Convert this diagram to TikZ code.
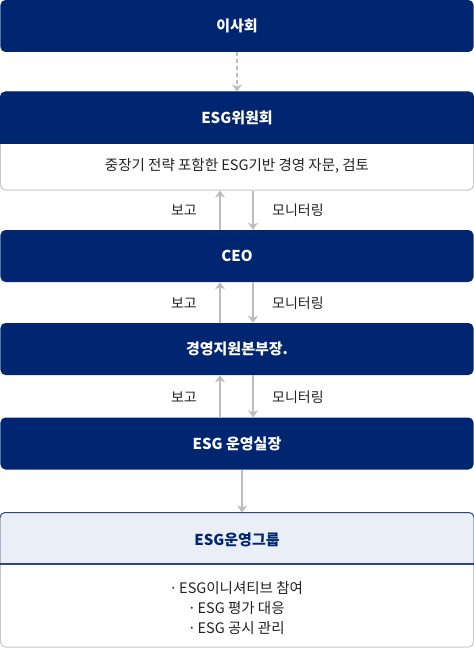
\documentclass[tikz,border=0pt]{standalone}
\usepackage{fontspec}
\setmainfont{Noto Sans CJK KR}
\usetikzlibrary{arrows.meta}
\definecolor{navy}{HTML}{002671}
\definecolor{lightbg}{HTML}{E9EEF7}
\definecolor{framegray}{HTML}{C6C6C6}
\definecolor{arrowgray}{HTML}{BDBDBD}
\definecolor{txt}{HTML}{222222}
\definecolor{navyline}{HTML}{2E4584}
\newcommand{\bdot}{\hbox to 5bp{\hss·\hss}\ }
\tikzset{
  navybox/.style={fill=navy, rounded corners=5bp, minimum width=473bp, minimum height=52bp, inner sep=0pt, text=white, font=\fontsize{15bp}{18bp}\selectfont\bfseries},
  panel/.style={draw=framegray, line width=1bp, fill=white, rounded corners=5bp, minimum width=473bp, inner sep=0pt},
  headtxt/.style={inner sep=0pt, font=\fontsize{15bp}{18bp}\selectfont\bfseries},
  bodytxt/.style={inner sep=0pt, text=txt, font=\fontsize{14.5bp}{20bp}\selectfont, align=center},
  lbl/.style={inner sep=0pt, text=txt, font=\fontsize{14bp}{17bp}\selectfont},
  arr/.style={draw=arrowgray, line width=1.2bp, -{Stealth[length=7bp,width=10bp,inset=2bp]}, fill=arrowgray}
}
\begin{document}
\begin{tikzpicture}[x=1bp,y=-1bp]
\useasboundingbox (0,0) rectangle (474,648);
% coordinates for arrow columns
\coordinate (upx) at (220,0);
\coordinate (dnx) at (253,0);
\coordinate (midx) at (237,0);
\coordinate (botx) at (242,0);

% 1 board
\node[navybox] (board) at (237,26) {이사회};

% 2 ESG committee
\node[panel, minimum height=98bp] (esgc) at (237,141) {};
\fill[navy] (esgc.west |- 0,144) [rounded corners=5bp] -- (esgc.north west) -- (esgc.north east) [sharp corners] -- (esgc.east |- 0,144) -- cycle;
\node[headtxt, text=white] (esgch) at (237,118) {ESG위원회};
\node[bodytxt] (esgcb) at (237,166) {중장기 전략 포함한 ESG기반 경영 자문, 검토};

% 3 CEO
\node[navybox] (ceo) at (237,256) {CEO};
% 4
\node[navybox] (mgmt) at (237,349) {경영지원본부장.};
% 5
\node[navybox] (ops) at (237,443.5) {ESG 운영실장};

% 6 ESG group
\node[panel, minimum height=134bp] (grp) at (237,580) {};
\fill[lightbg] (grp.west |- 0,564) [rounded corners=5bp] -- (grp.north west) -- (grp.north east) [sharp corners] -- (grp.east |- 0,564) -- cycle;
\draw[navyline, line width=1bp] (grp.west |- 0,564) [rounded corners=5bp] -- (grp.north west) -- (grp.north east) [sharp corners] -- (grp.east |- 0,564);
\draw[navyline, line width=1.5bp] (grp.west |- 0,564) -- (grp.east |- 0,564);
\node[headtxt, text=navy] (grph) at (237,540) {ESG운영그룹};
\node[bodytxt] (grpb) at (237,608) {\bdot ESG이니셔티브 참여\\ \bdot ESG 평가 대응\\ \bdot ESG 공시 관리};

% connectors
\draw[arr, dashed, dash pattern=on 4bp off 3bp] (board.south -| midx) -- (esgc.north -| midx);
\draw[arr] (ceo.north -| upx) -- (esgc.south -| upx);
\draw[arr] (esgc.south -| dnx) -- (ceo.north -| dnx);
\draw[arr] (mgmt.north -| upx) -- (ceo.south -| upx);
\draw[arr] (ceo.south -| dnx) -- (mgmt.north -| dnx);
\draw[arr] (ops.north -| upx) -- (mgmt.south -| upx);
\draw[arr] (mgmt.south -| dnx) -- (ops.north -| dnx);
\draw[arr] (ops.south -| botx) -- (grp.north -| botx);

% labels
\node[lbl, anchor=east] (r1) at (197,210) {보고};
\node[lbl, anchor=west] (m1) at (272,210) {모니터링};
\node[lbl, anchor=east] (r2) at (197,303) {보고};
\node[lbl, anchor=west] (m2) at (272,303) {모니터링};
\node[lbl, anchor=east] (r3) at (197,397) {보고};
\node[lbl, anchor=west] (m3) at (272,397) {모니터링};
\end{tikzpicture}
\end{document}
